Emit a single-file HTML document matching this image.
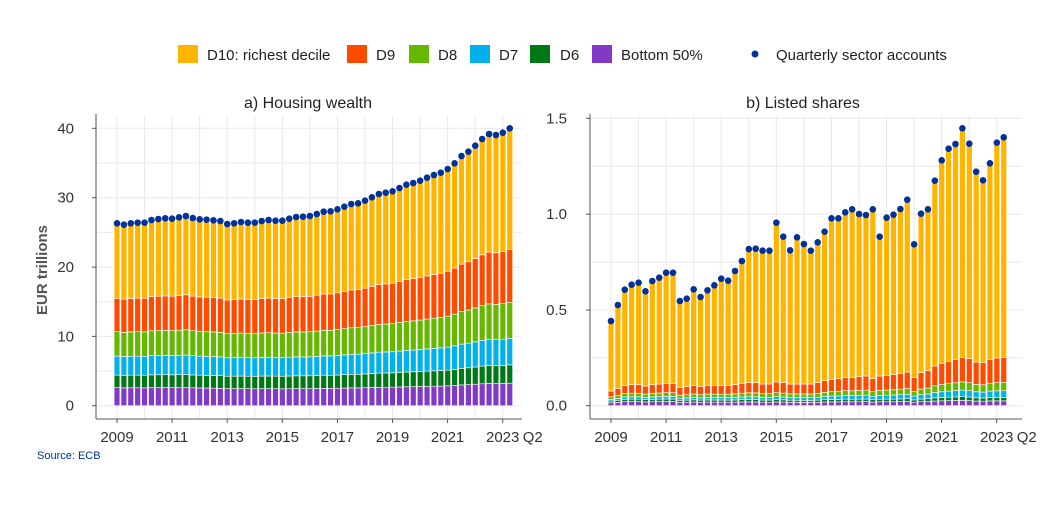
<!DOCTYPE html>
<html><head><meta charset="utf-8"><style>
body{margin:0;background:#fff;width:1059px;height:500px;overflow:hidden;font-family:"Liberation Sans",Arial,sans-serif}
</style></head><body>
<svg id="s" width="1059" height="500" xmlns="http://www.w3.org/2000/svg" font-family="Liberation Sans, Arial, sans-serif">
<g font-size="15" fill="#222">
<rect x="178" y="45" width="20" height="18" fill="#FFB400"/><text x="207" y="60">D10: richest decile</text>
<rect x="347" y="45" width="20" height="18" fill="#FF4B00"/><text x="376" y="60">D9</text>
<rect x="409" y="45" width="20" height="18" fill="#65B800"/><text x="438" y="60">D8</text>
<rect x="470" y="45" width="20" height="18" fill="#00B1EA"/><text x="499" y="60">D7</text>
<rect x="530" y="45" width="20" height="18" fill="#007816"/><text x="560" y="60">D6</text>
<rect x="592" y="45" width="20" height="18" fill="#8139C6"/><text x="621" y="60">Bottom 50%</text>
<circle cx="755" cy="54" r="3.5" fill="#003299"/><text x="776" y="60">Quarterly sector accounts</text>
<text x="308" y="108" text-anchor="middle" font-size="16">a) Housing wealth</text>
<text x="803" y="108" text-anchor="middle" font-size="16">b) Listed shares</text>
</g>
<text transform="translate(47,270) rotate(-90)" text-anchor="middle" font-size="15" font-weight="bold" fill="#555">EUR trillions</text>
<text x="37" y="459" font-size="11" fill="#003299">Source: ECB</text>
<g id="g"></g>
</svg>
<script>
(function(){
var g=document.getElementById('g'),h='';
var C=['#8139C6','#007816','#00B1EA','#65B800','#FF4B00','#FFB400'];
var L=[340,344,340,338,338,330,327,325,326,322,318,324,328,329,331,333,342,340,336,338,338,333,330,332,332,326,321,320,318,312,305,304,298,290,282,280,272,262,252,248,244,234,224,219,212,203,195,188,177,160,138,125,107,87,72,75,68,55];
var R=[633,585,539,524,518,544,513,503,488,488,573,566,538,561,541,526,506,512,483,453,417,416,422,422,338,380,421,382,402,422,397,365,325,325,307,298,312,315,298,380,323,314,297,269,403,311,298,212,151,116,102,55,101,185,211,160,98,82];
var RB=[843,836,826,824,824,828,824,822,820,820,832,830,826,829,826,826,826,826,824,820,818,818,822,822,816,818,822,822,822,822,818,812,808,806,802,802,800,798,806,798,796,794,790,786,802,788,782,768,760,754,748,742,746,756,758,748,744,742];
function panel(x0,x1,yTop,ticks,minor,labels,lx){
 for(var i=0;i<15;i++){var x=x0+21+i*27.55;h+='<line x1="'+x+'" x2="'+x+'" y1="'+yTop+'" y2="418" stroke="#e8e8e8"/>';}
 minor.forEach(function(y){h+='<line x1="'+x0+'" x2="'+x1+'" y1="'+y+'" y2="'+y+'" stroke="#e8e8e8"/>';});
 ticks.forEach(function(y,k){h+='<line x1="'+x0+'" x2="'+x1+'" y1="'+y+'" y2="'+y+'" stroke="#e8e8e8"/><line x1="'+(x0-4)+'" x2="'+x0+'" y1="'+y+'" y2="'+y+'" stroke="#555"/><text x="'+lx+'" y="'+(y+5)+'" text-anchor="end" font-size="15" fill="#333">'+labels[k]+'</text>';});
 h+='<line x1="'+x0+'" x2="'+x0+'" y1="'+(yTop-2)+'" y2="419" stroke="#555"/><line x1="'+x0+'" x2="'+x1+'" y1="419" y2="419" stroke="#555"/>';
 for(var i=0;i<8;i++){var x=x0+21+i*55.1;h+='<line x1="'+x+'" x2="'+x+'" y1="419" y2="423" stroke="#555"/><text x="'+x+'" y="442" text-anchor="middle" font-size="15" fill="#333">'+(2009+2*i)+'</text>';}
 h+='<text x="'+(x0+21+7*55.1+20)+'" y="442" font-size="15" fill="#333">Q2</text>';
}
panel(96,522,116,[405.7,336.4,267.1,197.7,128.3],[371,301.7,232.4,163],[0,10,20,30,40],74);
panel(590,1022,116,[405.7,310,214.2,118.3],[357.8,262.1,166.3],['0.0','0.5','1.0','1.5'],567);
function bars(x0,tops,segs){
 for(var i=0;i<58;i++){var x=x0+21+i*6.89;var prev=405.7;
  for(var k=0;k<6;k++){var y=segs[i][k];h+='<rect x="'+(x-2.9)+'" y="'+y+'" width="5.8" height="'+Math.max(prev-y,0.3)+'" fill="'+C[k]+'" stroke="#fff" stroke-width="0.6"/>';prev=y;}
 }
 for(var i=0;i<58;i++){var x=x0+21+i*6.89;h+='<circle cx="'+x+'" cy="'+tops[i]+'" r="3.3" fill="#003299"/>';}
}
var lt=[],ls=[];
for(var i=0;i<58;i++){var t=i/57;var tp=110+L[i]/3;var H=405.7-tp;lt.push(tp);
 var sh=[0.099+(0.081-0.099)*t,0.168+(0.147-0.168)*t,0.272+(0.243-0.272)*t,0.406+(0.373-0.406)*t,0.589+(0.564-0.589)*t,1];
 ls.push(sh.map(function(s){return 405.7-H*s;}));}
bars(96,lt,ls);
var rt=[],rs=[];
for(var i=0;i<58;i++){var t=i/57;var tp=110+R[i]/3;var b=110+RB[i]/3;var d=405.7-b;rt.push(tp);
 var sh=[0.2+(0.1-0.2)*t,0.32+(0.17-0.32)*t,0.43+(0.31-0.43)*t,0.6+(0.48-0.6)*t,1];
 var a=sh.map(function(s){return 405.7-d*s;});a.push(tp);rs.push(a);}
bars(590,rt,rs);
g.innerHTML=h;
})();
</script>
</body></html>
